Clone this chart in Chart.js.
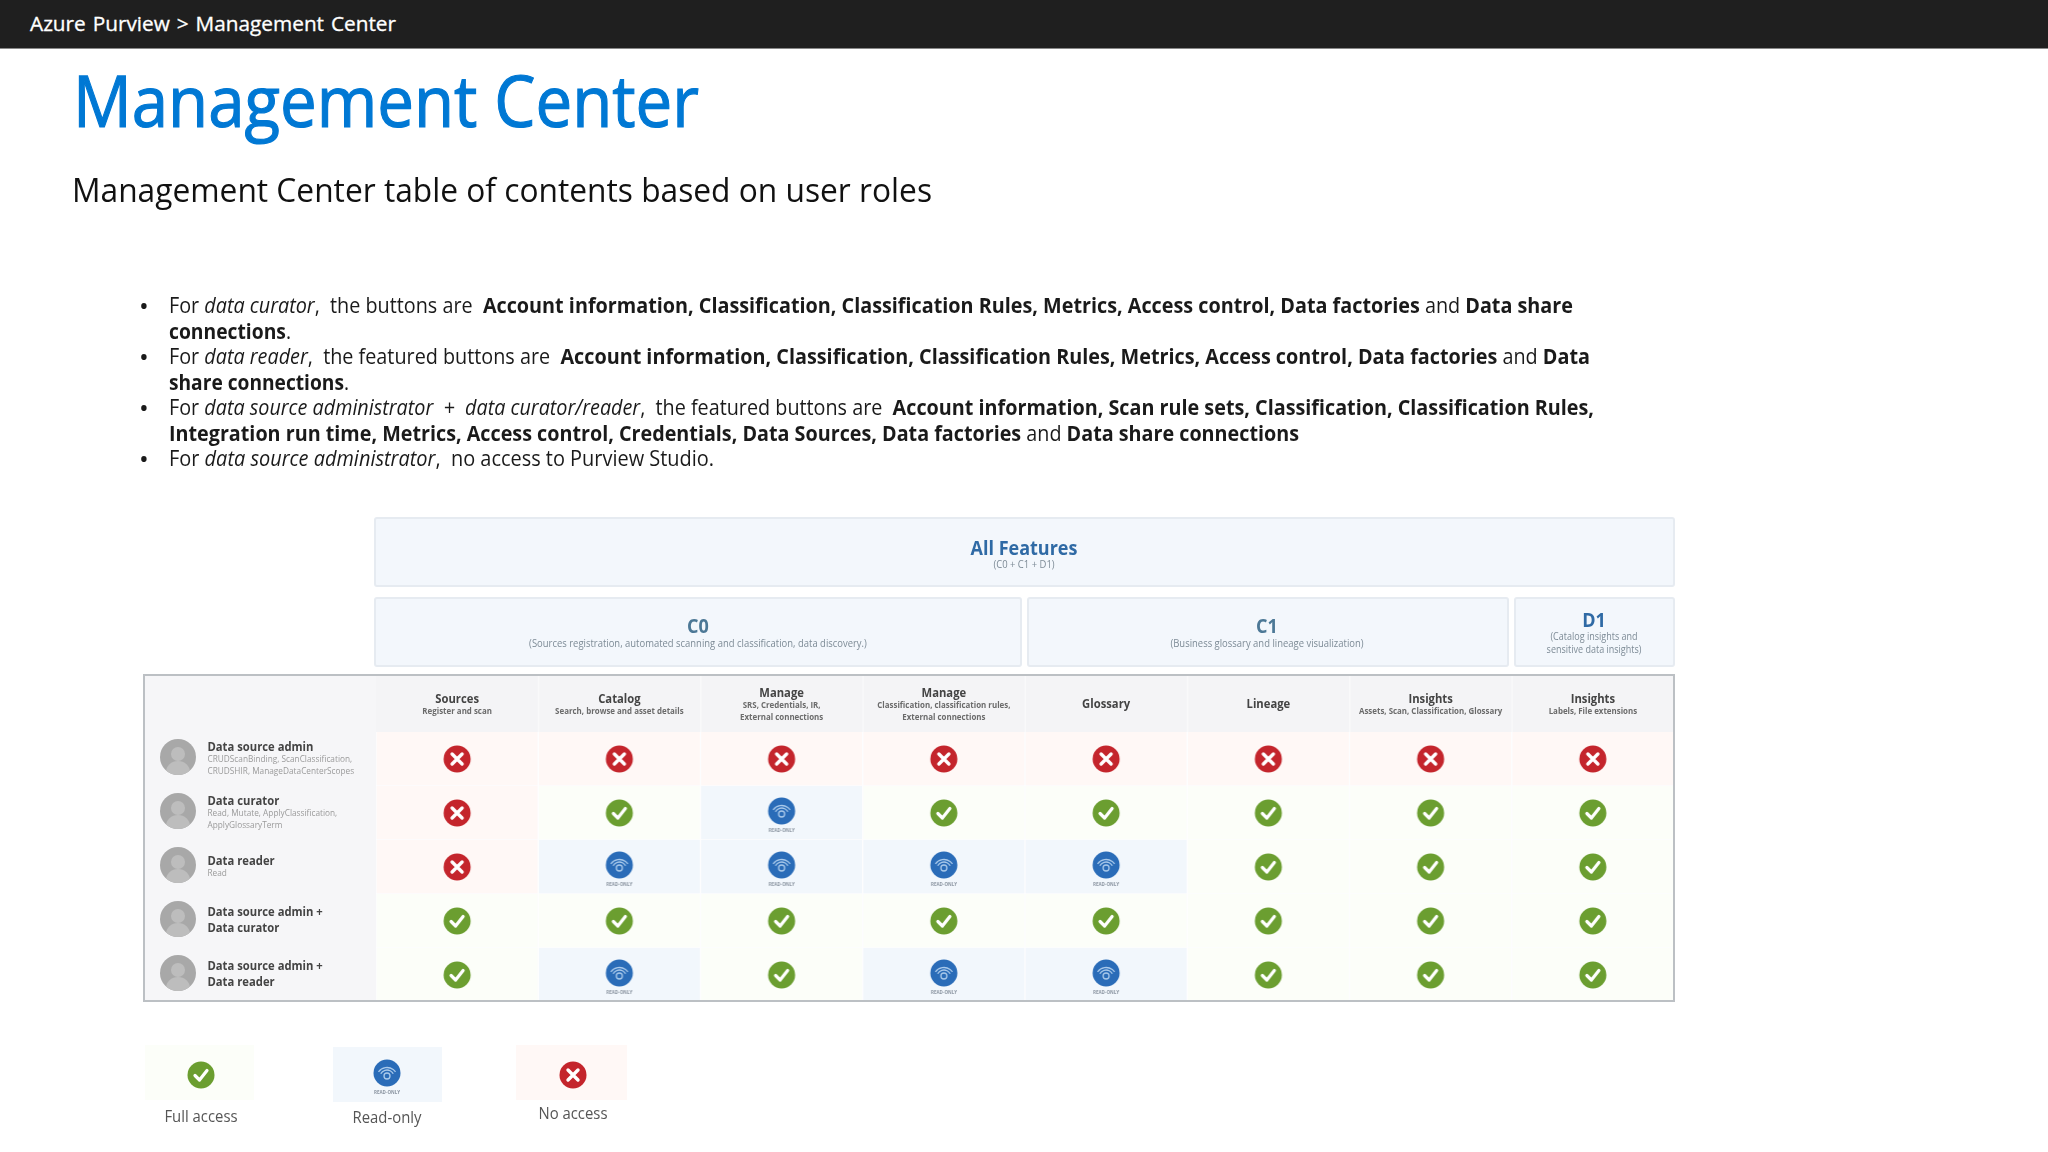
<!DOCTYPE html>
<html><head><meta charset="utf-8">
<style>
html,body{margin:0;padding:0;background:#fff;width:2048px;height:1152px;overflow:hidden;font-family:"Open Sans","Noto Sans",sans-serif}
#bar{position:absolute;left:0;top:0;width:2048px;height:48.5px;background:#1f1f1f;border-bottom:1px solid #888;box-sizing:border-box}
.t{position:absolute;white-space:pre;transform-origin:left center;line-height:26px}
#crumb{left:30px;top:11px;color:#fff;font-size:20px;-webkit-text-stroke:0.3px #fff;word-spacing:1.5px}
#title{left:73px;top:50.5px;color:#0078d4;font-size:72px;line-height:96px;-webkit-text-stroke:1.2px #0078d4}
#sub{left:72px;top:168px;color:#111;font-size:32px;line-height:44px}
.b{left:168.5px;color:#1a1a1a;font-size:21px}
.d{position:absolute;left:139px;color:#1a1a1a;font-size:26px;line-height:26px}
canvas{position:absolute;left:0;top:0;filter:blur(0.5px)}
</style>
<script src="https://cdn.jsdelivr.net/npm/chart.js@4"></script>
</head><body>
<canvas id="c" width="2048" height="1152"></canvas>
<div id="bar"></div>
<div class="t" id="crumb" data-w="366">Azure Purview &gt; Management Center</div>
<div class="t" id="title" data-w="626">Management Center</div>
<div class="t" id="sub" data-w="860">Management Center table of contents based on user roles</div>
<div class="d" style="top:292px">•</div>
<div class="d" style="top:343px">•</div>
<div class="d" style="top:394px">•</div>
<div class="d" style="top:445px">•</div>
<div class="t b" style="top:292px" data-w="1404">For <i>data curator</i>,  the buttons are  <b>Account information, Classification, Classification Rules, Metrics, Access control, Data factories</b> and <b>Data share</b></div>
<div class="t b" style="top:318px" data-w="122"><b>connections</b>.</div>
<div class="t b" style="top:343px" data-w="1421">For <i>data reader</i>,  the featured buttons are  <b>Account information, Classification, Classification Rules, Metrics, Access control, Data factories</b> and <b>Data</b></div>
<div class="t b" style="top:369px" data-w="180"><b>share connections</b>.</div>
<div class="t b" style="top:394px" data-w="1425">For <i>data source administrator  +  data curator/reader</i>,  the featured buttons are  <b>Account information, Scan rule sets, Classification, Classification Rules,</b></div>
<div class="t b" style="top:420px" data-w="1130"><b>Integration run time, Metrics, Access control, Credentials, Data Sources, Data factories</b> and <b>Data share connections</b></div>
<div class="t b" style="top:445px" data-w="545">For <i>data source administrator</i>,  no access to Purview Studio.</div>
<script>
const columns = ['Sources','Catalog','Manage SRS','Manage Classification','Glossary','Lineage','Insights Assets','Insights Labels'];
const columnTitles = ['Sources','Catalog','Manage','Manage','Glossary','Lineage','Insights','Insights'];
const columnNotes = [['Register and scan'],['Search, browse and asset details'],['SRS, Credentials, IR,','External connections'],['Classification, classification rules,','External connections'],[],[],['Assets, Scan, Classification, Glossary'],['Labels, File extensions']];
const roleTitles = [['Data source admin'],['Data curator'],['Data reader'],['Data source admin +','Data curator'],['Data source admin +','Data reader']];
const roleNotes = [['CRUDScanBinding, ScanClassification,','CRUDSHIR, ManageDataCenterScopes'],['Read, Mutate, ApplyClassification,','ApplyGlossaryTerm'],['Read'],[],[]];
const dataSourceAdmin = ['no','no','no','no','no','no','no','no'];
const dataCurator = ['no','full','read','full','full','full','full','full'];
const dataReader = ['no','read','read','read','read','full','full','full'];
const adminCurator = ['full','full','full','full','full','full','full','full'];
const adminReader = ['full','read','full','read','read','full','full','full'];
const accessRows = [dataSourceAdmin,dataCurator,dataReader,adminCurator,adminReader];
const legendLabels = {full:'Full access',read:'Read-only',no:'No access'};
const tints = {full:'#fcfef9',read:'#f2f7fc',no:'#fff8f6'};

const FONT='"Open Sans","Noto Sans",sans-serif';
function txt(ctx,s,x,y,font,color,align,h){
  ctx.save();ctx.font=font;ctx.fillStyle=color;ctx.textAlign=align||'center';ctx.textBaseline='middle';
  ctx.translate(x,y);ctx.scale(h||0.9,1);ctx.fillText(s,0,0);ctx.restore();
}
function mk(w,h,fn){const c=document.createElement('canvas');c.width=w;c.height=h;fn(c.getContext('2d'));return c;}
function disc(g,x,y,r,col){g.fillStyle=col;g.beginPath();g.arc(x,y,r,0,Math.PI*2);g.fill();}
const icons={
 full:mk(36,36,g=>{disc(g,18,18,13.5,'#6b9e30');g.strokeStyle='#fff';g.lineWidth=3.2;g.lineCap='round';g.lineJoin='round';g.beginPath();g.moveTo(12,18.5);g.lineTo(16.5,23);g.lineTo(24,13.5);g.stroke();}),
 no:mk(36,36,g=>{disc(g,18,18,13.5,'#c4252c');g.strokeStyle='#fff';g.lineWidth=3.4;g.lineCap='round';g.beginPath();g.moveTo(13,13);g.lineTo(23,23);g.moveTo(23,13);g.lineTo(13,23);g.stroke();}),
 read:mk(60,48,g=>{disc(g,30,22,13.5,'#2a6cb8');g.strokeStyle='#a9c9ea';g.lineWidth=1.3;g.beginPath();g.arc(30,25,3,0,Math.PI*2);g.stroke();g.beginPath();g.arc(30,26,7,Math.PI*1.15,Math.PI*1.85);g.stroke();g.beginPath();g.arc(30,27,10.5,Math.PI*1.2,Math.PI*1.8);g.stroke();
   g.font='bold 4.5px '+FONT;g.fillStyle='#8a94a0';g.textAlign='center';g.textBaseline='middle';g.fillText('READ-ONLY',30,42);})
};
function avatar(ctx,x,y){
  ctx.save();ctx.beginPath();ctx.arc(x,y,18,0,Math.PI*2);ctx.fillStyle='#a8a8a8';ctx.fill();ctx.clip();
  ctx.fillStyle='#bdbdbd';ctx.beginPath();ctx.arc(x,y-3,7,0,Math.PI*2);ctx.fill();
  ctx.beginPath();ctx.ellipse(x,y+15,12,11,0,0,Math.PI*2);ctx.fill();ctx.restore();
}
function box(ctx,x0,y0,x1,y1){
  ctx.fillStyle='#f3f7fc';ctx.strokeStyle='#e6ebf1';ctx.lineWidth=2;
  ctx.beginPath();ctx.roundRect(x0,y0,x1-x0,y1-y0,2);ctx.fill();ctx.stroke();
}
const pagePlugin={id:'page',
 beforeDatasetsDraw(chart){
  const ctx=chart.ctx,a=chart.chartArea,xs=chart.scales.x,ys=chart.scales.y;
  box(ctx,375,518,1674,586);box(ctx,375,598,1021,666);box(ctx,1028,598,1508,666);box(ctx,1515,598,1674,666);
  const blue='#2f6aa5',grey='#7d8b96';
  txt(ctx,'All Features',1024,549,'bold 20px '+FONT,blue);
  txt(ctx,'(C0 + C1 + D1)',1024,565,'10.5px '+FONT,grey);
  txt(ctx,'C0',698,627,'bold 20px '+FONT,'#4c7896');
  txt(ctx,'(Sources registration, automated scanning and classification, data discovery.)',698,644,'10.5px '+FONT,grey);
  txt(ctx,'C1',1267,627,'bold 20px '+FONT,'#4c7896');
  txt(ctx,'(Business glossary and lineage visualization)',1267,644,'10.5px '+FONT,grey);
  txt(ctx,'D1',1594,621,'bold 20px '+FONT,blue);
  txt(ctx,'(Catalog insights and',1594,637,'10px '+FONT,grey);
  txt(ctx,'sensitive data insights)',1594,650,'10px '+FONT,grey);
  ctx.fillStyle='#f6f6f8';ctx.fillRect(144,675,a.right-144,a.bottom-675);
  ctx.fillStyle='#f4f4f6';ctx.fillRect(376,675,a.right-376,a.top-675);
  columnTitles.forEach((t,i)=>{
    const x=xs.getPixelForValue(i),n=columnNotes[i];
    if(i>0){ctx.fillStyle='#f9f9fa';ctx.fillRect(xs.getPixelForValue(i)-81.6,675,1.5,a.top-675);}
    const y=n.length==2?693:n.length==1?699:704;
    txt(ctx,t,x,y,'bold 12.5px '+FONT,'#444');
    n.forEach((s,k)=>txt(ctx,s,x,y+12.5+k*12,'bold 8.8px '+FONT,'#6b6b6b'));
  });
  const offs=[[-12,0,12],[-12,0,12],[-6,6],[-9,7],[-9,7]];
  roleTitles.forEach((ts,i)=>{
    const yc=ys.getPixelForValue(i+0.5);
    avatar(ctx,178,yc-2);
    const lines=ts.concat(roleNotes[i]);
    lines.forEach((s,k)=>{
      const isT=k<ts.length;
      txt(ctx,s,207.5,yc+offs[i][k],isT?'bold 12.5px '+FONT:'9.2px '+FONT,isT?'#444':'#9a9a9a','left');
    });
  });
 },
 afterDraw(chart){
  const ctx=chart.ctx,a=chart.chartArea;
  ctx.strokeStyle='#bcc0c4';ctx.lineWidth=2;ctx.strokeRect(144,675,a.right-144,a.bottom-676);
  const key=[['full',145,254,1045,201,1075,1117],['read',333,442,1047,387,1073,1118],['no',516,627,1045,573,1075,1114]];
  key.forEach(([k,x0,x1,y0,cx,cy,ly])=>{
    ctx.fillStyle=tints[k];ctx.fillRect(x0,y0,x1-x0,55);
    const im=icons[k];
    ctx.drawImage(im,cx-im.width/2,(k=='read'?cy+2:cy)-im.height/2);
    txt(ctx,legendLabels[k],cx,ly,'16.5px '+FONT,'#555');
  });
 }
};
const cellSets=accessRows.map((r,i)=>({type:'bar',order:2,grouped:false,barPercentage:1,categoryPercentage:1,
  data:r.map(()=>[i,i+1]),backgroundColor:r.map(s=>tints[s]),borderColor:'rgba(255,255,255,0.8)',borderWidth:1}));
const markSets=['full','read','no'].map(s=>({type:'line',order:1,showLine:false,pointStyle:icons[s],pointRadius:14,
  data:accessRows.flatMap((r,i)=>r.map((v,j)=>v===s?{x:columns[j],y:i+0.5}:null).filter(Boolean))}));
new Chart(document.getElementById('c'),{
 type:'bar',
 data:{labels:columns,datasets:cellSets.concat(markSets)},
 options:{responsive:false,animation:false,devicePixelRatio:1,
  layout:{padding:{left:376,right:374,top:732,bottom:150}},
  plugins:{legend:{display:false},tooltip:{enabled:false},title:{display:false}},
  scales:{x:{display:false,offset:true},y:{display:false,reverse:true,min:0,max:5}}},
 plugins:[pagePlugin]
});
document.querySelectorAll('[data-w]').forEach(e=>{
  const w=e.getBoundingClientRect().width,t=+e.dataset.w;
  e.style.transform='scaleX('+(t/w)+')';
});
</script>
</body></html>
